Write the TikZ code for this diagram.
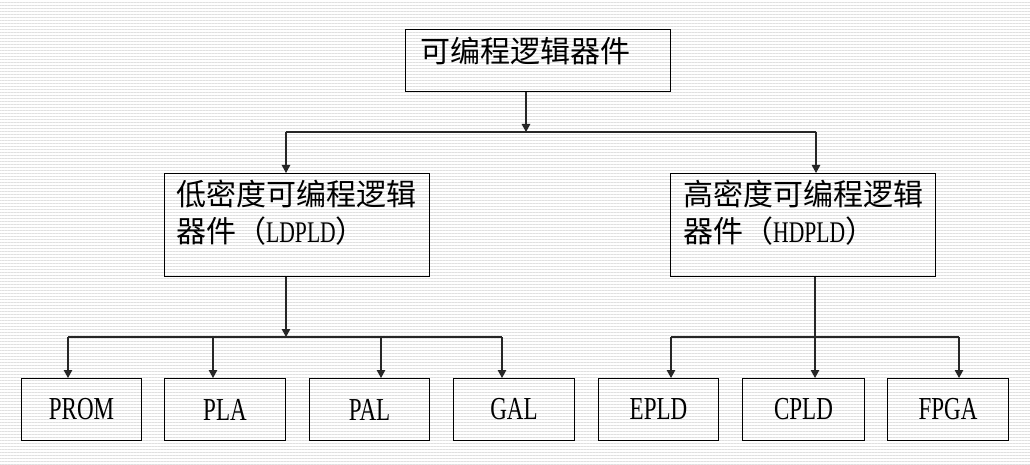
\documentclass[tikz,border=0pt]{standalone}
\usepackage{fontspec}
\setmainfont{Liberation Serif}[FakeStretch=0.72]
\newfontfamily\cjk{Noto Sans CJK SC}
\usetikzlibrary{arrows.meta,patterns.meta}
\begin{document}
\begin{tikzpicture}[x=1pt,y=-1pt,
  box/.style={draw=black,line width=1pt,inner sep=0pt,anchor=north west,font=\fontsize{32}{36}\selectfont},
  lbl/.style={inner sep=0pt,anchor=base west,font=\fontsize{30}{37}\selectfont},
  conn/.style={draw=black!85,line width=1.1pt},
  arr/.style={conn,-{Triangle[length=8pt,width=8.5pt]}}]
\useasboundingbox (0,0) rectangle (1030,465);
\fill[white] (0,0) rectangle (1030,465);
\fill[pattern={Lines[angle=0,distance=3pt,line width=1pt]},pattern color=black!12] (0,0) rectangle (1030,465);
% boxes
\node[box,minimum width=265pt,minimum height=62pt] (top) at (405,29) {};
\node[box,minimum width=265pt,minimum height=103pt] (ld) at (164,173) {};
\node[box,minimum width=265pt,minimum height=103pt] (hd) at (670,173) {};
\node[box,minimum width=120pt,minimum height=62pt] (prom) at (21,378) {PROM};
\node[box,minimum width=121pt,minimum height=62pt] (pla) at (164,378) {PLA};
\node[box,minimum width=120pt,minimum height=62pt] (pal) at (309,378) {PAL};
\node[box,minimum width=121pt,minimum height=62pt] (gal) at (453,378) {GAL};
\node[box,minimum width=120pt,minimum height=62pt] (epld) at (598,378) {EPLD};
\node[box,minimum width=122pt,minimum height=62pt] (cpld) at (742,378) {CPLD};
\node[box,minimum width=121pt,minimum height=62pt] (fpga) at (887,378) {FPGA};
% labels
\node[lbl] (topt) at (420,63) {\cjk 可编程逻辑器件};
\node[lbl] (ldt1) at (176,205) {\cjk 低密度可编程逻辑};
\node[lbl] (ldt2) at (176,242) {{\cjk 器件（}LDPLD{\cjk ）}};
\node[lbl] (hdt1) at (683,205) {\cjk 高密度可编程逻辑};
\node[lbl] (hdt2) at (683,242) {{\cjk 器件（}HDPLD{\cjk ）}};
% junction coordinates
\coordinate (j0) at (526,132);
\coordinate (jl) at (286,132);
\coordinate (jr) at (816,132);
\coordinate (bl) at (286,337);
\coordinate (a1) at (68,337);
\coordinate (a2) at (213,337);
\coordinate (a3) at (381,337);
\coordinate (a4) at (502,337);
\coordinate (b1) at (671,337);
\coordinate (b2) at (815,337);
\coordinate (b3) at (959,337);
% connectors
\draw[arr] (j0 |- top.south) -- (j0);
\draw[conn] (jl) -- (jr);
\draw[arr] (jl) -- (jl |- ld.north);
\draw[arr] (jr) -- (jr |- hd.north);
\draw[arr] (bl |- ld.south) -- (bl);
\draw[conn] (a1) -- (a4);
\draw[arr] (a1) -- (a1 |- prom.north);
\draw[arr] (a2) -- (a2 |- pla.north);
\draw[arr] (a3) -- (a3 |- pal.north);
\draw[arr] (a4) -- (a4 |- gal.north);
\draw[conn] (b1) -- (b3);
\draw[arr] (b2 |- hd.south) -- (b2 |- cpld.north);
\draw[arr] (b1) -- (b1 |- epld.north);
\draw[arr] (b3) -- (b3 |- fpga.north);
\end{tikzpicture}
\end{document}
